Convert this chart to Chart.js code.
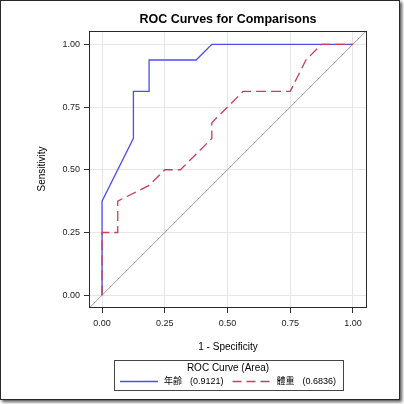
<!DOCTYPE html>
<html>
<head>
<meta charset="utf-8">
<script src="https://cdn.jsdelivr.net/npm/chart.js@4.4.1/dist/chart.umd.min.js"></script>
<style>
  html, body { margin: 0; padding: 0; background: #fff; }
  #wrap { position: relative; width: 404px; height: 404px; overflow: hidden; }
  #wrap canvas { position: absolute; left: 0; top: 0; }
  #frame {
    position: absolute; left: 0; top: 0; width: 398px; height: 398px;
    border: 1px solid #2a2a2a; box-shadow: 2px 2px 3px #555; pointer-events: none;
  }
</style>
</head>
<body>
<div id="wrap">
  <canvas id="roc" width="404" height="404"></canvas>
  <div id="frame"></div>
</div>
<script>
// ROC points (1 - specificity, sensitivity)
const ageFpr = [0, 0, 0.125, 0.125, 0.1875, 0.1875, 0.375, 0.4375, 1];
const ageSens = [0, 0.375, 0.625, 0.8125, 0.8125, 0.9375, 0.9375, 1, 1];
const weightFpr = [0, 0, 0.0625, 0.0625, 0.1875, 0.25, 0.3125, 0.4375, 0.4375, 0.5625, 0.75, 0.8125, 0.875, 1];
const weightSens = [0, 0.25, 0.25, 0.375, 0.4375, 0.5, 0.5, 0.625, 0.6875, 0.8125, 0.8125, 0.9375, 1, 1];
const chanceLine = [-0.1, 1.1];
const seriesNames = ['年齢', '體重'];
const seriesAreas = [0.9121, 0.6836];
const tickValues = [0, 0.25, 0.5, 0.75, 1];

const FONT = '"Liberation Sans", Arial, "Noto Sans CJK JP", "Noto Sans CJK TC", sans-serif';
const BLUE = '#4d4df2';
const RED = '#cc3d5c';

function toPoints(xs, ys) {
  return xs.map((x, i) => ({ x: x, y: ys[i] }));
}

// title, plot frame and legend box
const decorations = {
  id: 'decorations',
  afterDraw(chart) {
    const ctx = chart.ctx;
    const area = chart.chartArea;
    const cx = (area.left + area.right) / 2;
    ctx.save();

    ctx.strokeStyle = '#2a2a2a';
    ctx.lineWidth = 1;
    ctx.strokeRect(Math.round(area.left) + 0.5, Math.round(area.top) + 0.5,
      Math.round(area.right - area.left) - 1, Math.round(area.bottom - area.top));

    ctx.fillStyle = '#000';
    ctx.font = 'bold 12.5px ' + FONT;
    ctx.textAlign = 'center';
    ctx.textBaseline = 'alphabetic';
    ctx.fillText('ROC Curves for Comparisons', cx, 22.5);

    // legend
    const boxW = 229, boxTop = 360.5, boxH = 30;
    ctx.strokeStyle = '#444';
    ctx.strokeRect(Math.round(cx - boxW / 2) + 0.5, boxTop, boxW, boxH);
    ctx.font = '10px ' + FONT;
    ctx.textBaseline = 'middle';
    ctx.fillText('ROC Curve (Area)', cx, 368.5);

    ctx.font = '9px ' + FONT;
    const items = seriesNames.map((name, i) => ({
      name: name,
      area: '(' + seriesAreas[i].toFixed(4) + ')',
      color: i === 0 ? BLUE : RED,
      dash: i === 0 ? [] : [9, 5]
    }));
    const lineLen = 38;
    let total = 0;
    items.forEach((it, i) => {
      it.nameW = ctx.measureText(it.name).width;
      it.areaW = ctx.measureText(it.area).width;
      total += lineLen + 6 + it.nameW + 8 + it.areaW + (i < items.length - 1 ? 9 : 0);
    });
    let x = cx - total / 2;
    const y = 381.5;
    ctx.textAlign = 'left';
    items.forEach(it => {
      ctx.strokeStyle = it.color;
      ctx.lineWidth = 1.4;
      ctx.setLineDash(it.dash);
      ctx.beginPath();
      ctx.moveTo(x, y);
      ctx.lineTo(x + lineLen, y);
      ctx.stroke();
      ctx.setLineDash([]);
      x += lineLen + 6;
      ctx.fillStyle = '#000';
      ctx.fillText(it.name, x, y);
      x += it.nameW + 8;
      ctx.fillText(it.area, x, y);
      x += it.areaW + 9;
    });
    ctx.restore();
  }
};

new Chart(document.getElementById('roc'), {
  type: 'scatter',
  data: {
    datasets: [
      {
        label: 'chance',
        data: toPoints(chanceLine, chanceLine),
        showLine: true,
        borderColor: '#9a9a9a',
        borderWidth: 1,
        pointRadius: 0,
        order: 3
      },
      {
        label: seriesNames[0],
        data: toPoints(ageFpr, ageSens),
        showLine: true,
        borderColor: BLUE,
        borderWidth: 1.3,
        pointRadius: 0,
        order: 2
      },
      {
        label: seriesNames[1],
        data: toPoints(weightFpr, weightSens),
        showLine: true,
        borderColor: RED,
        borderWidth: 1.3,
        borderDash: [10, 5],
        pointRadius: 0,
        order: 1
      }
    ]
  },
  options: {
    responsive: false,
    animation: false,
    events: [],
    layout: { padding: { left: 36, top: 31, right: 37, bottom: 47 } },
    plugins: {
      legend: { display: false },
      tooltip: { enabled: false },
      title: { display: false }
    },
    scales: {
      x: {
        type: 'linear',
        min: -0.052,
        max: 1.056,
        afterBuildTicks: scale => { scale.ticks = tickValues.map(v => ({ value: v })); },
        afterFit: scale => { scale.height = 50; },
        ticks: {
          callback: v => v.toFixed(2),
          font: { family: FONT, size: 9 },
          color: '#222',
          padding: 5,
          maxRotation: 0
        },
        grid: { color: '#e6e6e6', tickColor: '#333', tickLength: 6 },
        border: { display: false },
        title: {
          display: true,
          text: '1 - Specificity',
          font: { family: FONT, size: 10 },
          color: '#000',
          padding: { top: 0, bottom: 4 }
        }
      },
      y: {
        type: 'linear',
        min: -0.047,
        max: 1.053,
        afterBuildTicks: scale => { scale.ticks = tickValues.map(v => ({ value: v })); },
        afterFit: scale => { scale.width = 53; },
        ticks: {
          callback: v => v.toFixed(2),
          font: { family: FONT, size: 9 },
          color: '#222',
          padding: 4
        },
        grid: { color: '#e6e6e6', tickColor: '#333', tickLength: 5 },
        border: { display: false },
        title: {
          display: true,
          text: 'Sensitivity',
          font: { family: FONT, size: 10 },
          color: '#000',
          padding: 0
        }
      }
    }
  },
  plugins: [decorations]
});
</script>
</body>
</html>
